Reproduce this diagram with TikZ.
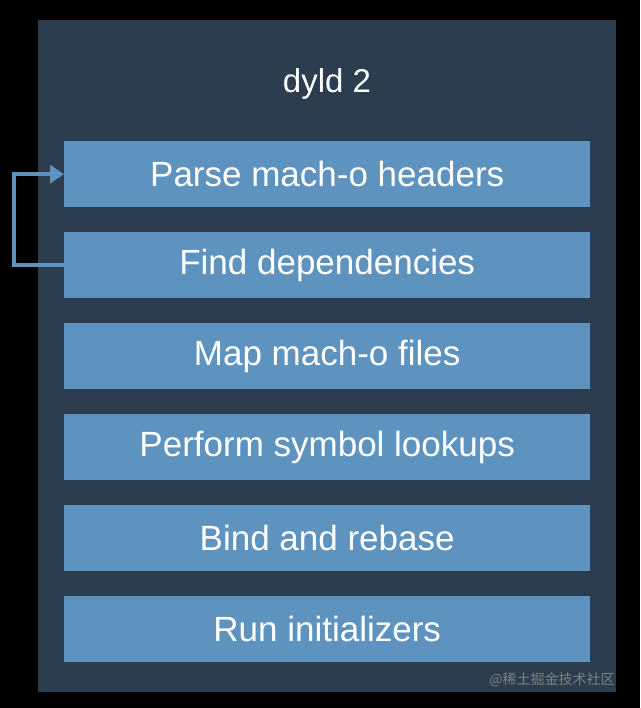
\documentclass[tikz,border=0pt]{standalone}
\usepackage{fontspec}
\usetikzlibrary{arrows.meta}
\setmainfont{Liberation Sans}
\newfontfamily\cjk{Noto Sans CJK SC}
\definecolor{panel}{HTML}{2B3D4F}
\definecolor{boxc}{HTML}{5E93BF}
\begin{document}
\begin{tikzpicture}[x=1pt,y=-1pt,
  stepbox/.style={fill=boxc,minimum width=526pt,minimum height=66pt,inner sep=0pt,text=white,font=\fontsize{35}{40}\selectfont,anchor=north west}]
\fill[black] (0,0) rectangle (640,708);
\useasboundingbox (0,0) rectangle (640,708);
\fill[panel] (38,20) rectangle (616,692);
\node[text=white,font=\fontsize{33}{38}\selectfont] (title) at (327,84) {dyld 2};
\node[stepbox] (b1) at (64,141) {Parse mach-o headers};
\node[stepbox] (b2) at (64,232) {Find dependencies};
\node[stepbox] (b3) at (64,323) {Map mach-o files};
\node[stepbox] (b4) at (64,414) {Perform symbol lookups};
\node[stepbox] (b5) at (64,505) {Bind and rebase};
\node[stepbox] (b6) at (64,596) {Run initializers};
\draw[boxc,line width=4pt,-{Triangle[length=14pt,width=18pt]}] (b2.west) -- ++(-50,0) |- (b1.west);
\node[text=gray,font=\cjk\fontsize{14}{16}\selectfont] (wm) at (552,680) {@稀土掘金技术社区};
\end{tikzpicture}
\end{document}
